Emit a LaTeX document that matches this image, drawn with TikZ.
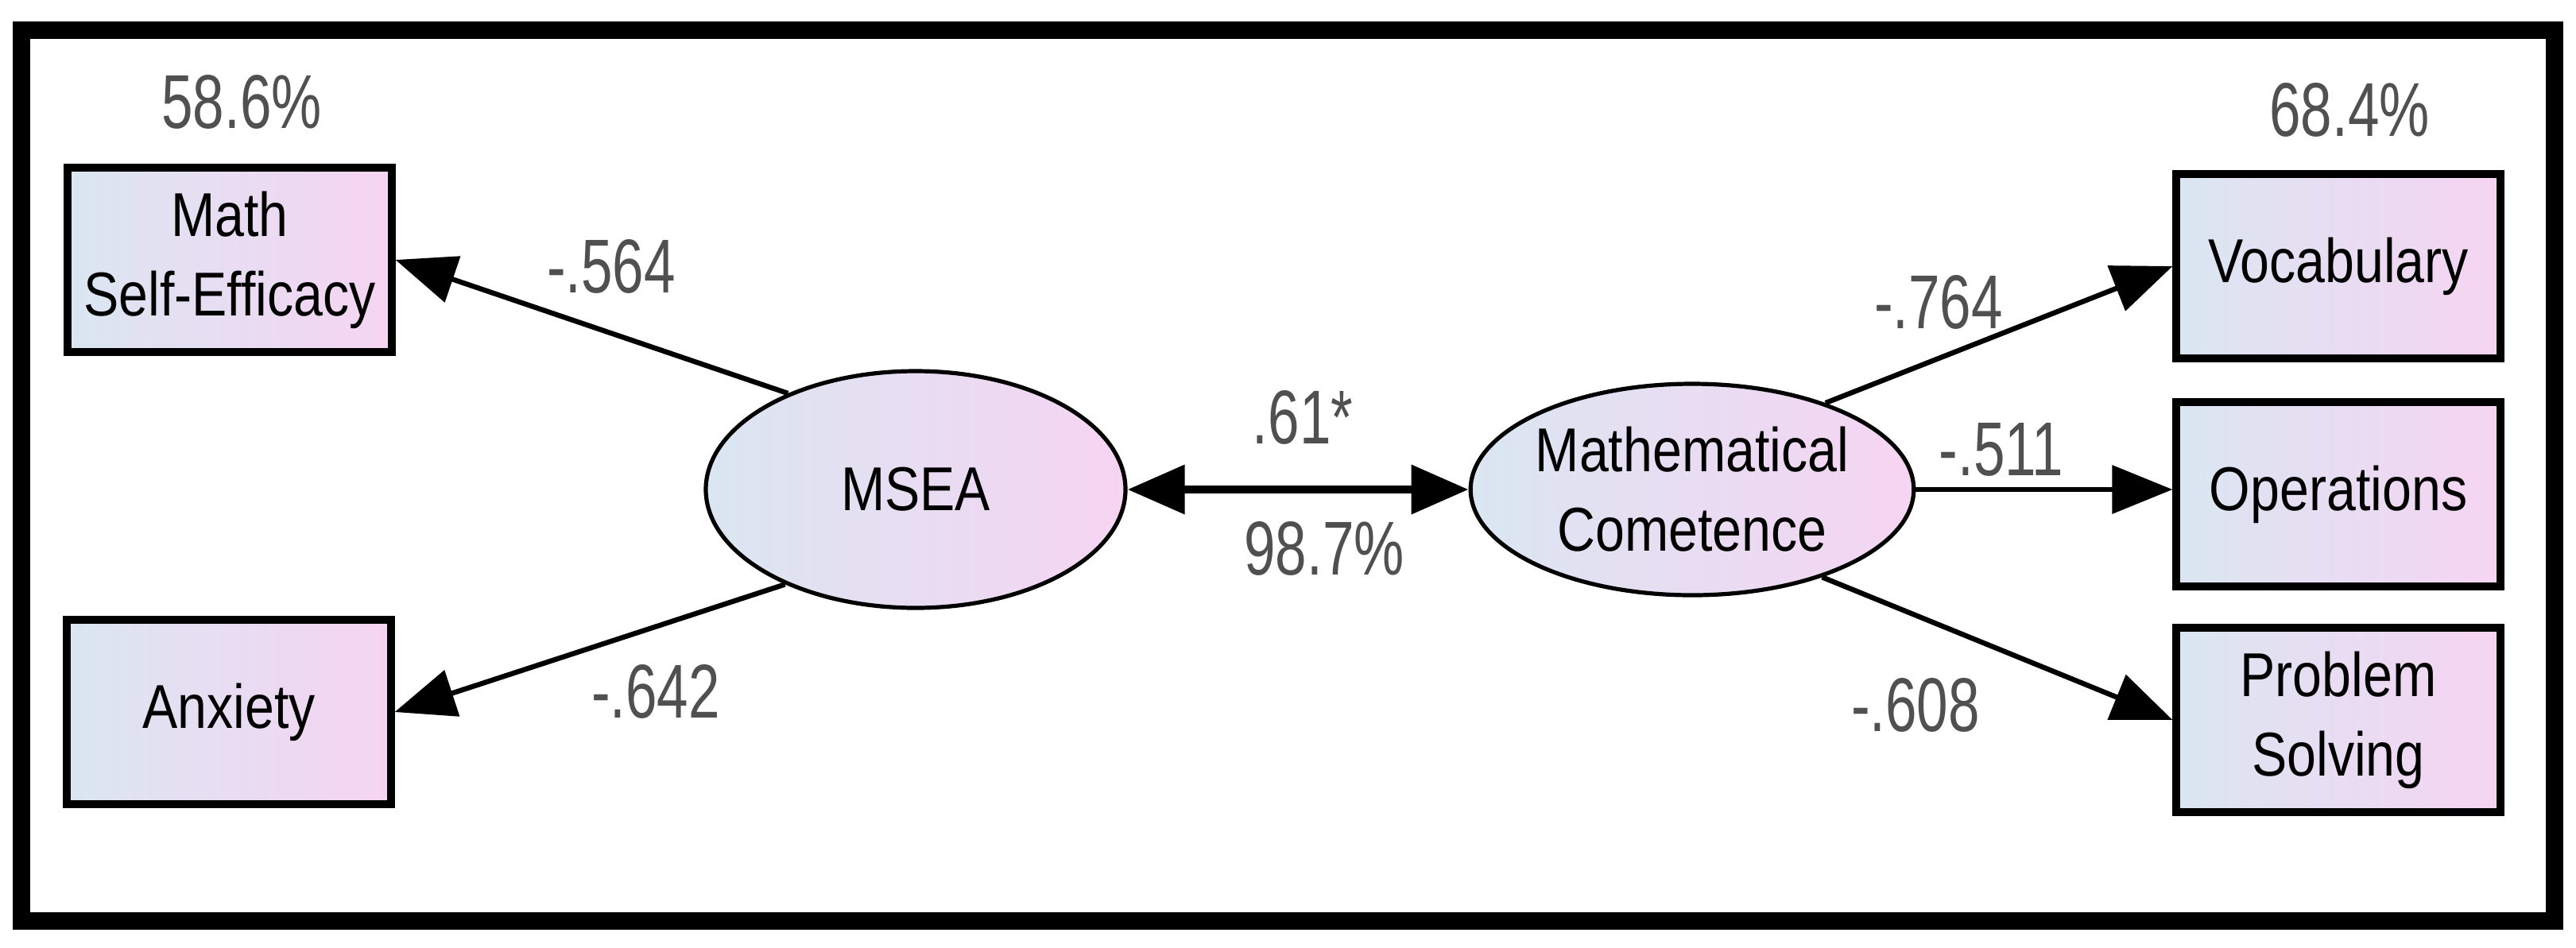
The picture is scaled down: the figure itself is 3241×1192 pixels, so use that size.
\documentclass[tikz,border=0pt]{standalone}
\usepackage{fontspec}
\setmainfont{Liberation Sans}
\newfontfamily\boxfont[FakeStretch=0.85]{Liberation Sans}
\newfontfamily\numfont[FakeStretch=0.74]{Liberation Sans}
\usetikzlibrary{arrows.meta,shapes.geometric}
\definecolor{lblue}{RGB}{218,230,242}
\definecolor{lpink}{RGB}{246,212,242}
\definecolor{numgray}{RGB}{80,80,80}
\tikzset{
  obs/.style={draw=black, line width=2.3pt, left color=lblue, right color=lpink,
    minimum width=102pt, minimum height=58pt, inner sep=0pt, align=center,
    font=\boxfont\fontsize{19.5}{25}\selectfont},
  lat/.style={ellipse, draw=black, line width=1.3pt, left color=lblue, right color=lpink,
    inner sep=0pt, align=center, font=\boxfont\fontsize{19.5}{25}\selectfont},
  arr/.style={line width=1.6pt, -{Triangle[length=19pt,width=15pt]}},
  dblarr/.style={line width=2.6pt, {Triangle[length=18pt,width=15pt]}-{Triangle[length=18pt,width=15pt]}},
  num/.style={text=numgray, inner sep=0pt, font=\numfont\fontsize{24}{24}\selectfont}
}
\begin{document}
\begin{tikzpicture}[x=0.25pt,y=-0.25pt]
\useasboundingbox (0,0) rectangle (3241,1192);
\fill[white] (0,0) rectangle (3241,1192);
\draw[line width=5.3pt] (27,38) rectangle (3214,1159);

\node[obs] (mse) at (289,327) {Math\\Self-Efficacy};
\node[obs] (anx) at (288,896) {Anxiety};
\node[obs] (voc) at (2942,335) {Vocabulary};
\node[obs] (ops) at (2942,622) {Operations};
\node[obs] (ps)  at (2942,906) {Problem\\Solving};

\node[lat, minimum width=132pt, minimum height=74.5pt] (msea) at (1152,616) {MSEA};
\node[lat, minimum width=133pt, minimum height=66.5pt] (mc) at (2129,616) {Mathematical\\Cometence};

\draw[arr] (msea.143) -- (mse.east);
\draw[arr] (msea.-144) -- (anx.east);
\draw[dblarr] (msea.east) -- (mc.west);
\draw[arr] (mc.33) -- (voc.west);
\draw[arr] (mc.east) -- (mc.east -| ops.west);
\draw[arr] (mc.-34) -- (ps.west);

\node[num] (r1) at (304,128) {58.6\%};
\node[num] (r2) at (2956,138) {68.4\%};
\node[num] (c1) at (1639,525) {.61*};
\node[num] (r3) at (1666,690) {98.7\%};
\node[num] (l1) at (769,335) {-.564};
\node[num] (l2) at (825,870) {-.642};
\node[num] (l3) at (2439,380) {-.764};
\node[num] (l4) at (2518,566) {-.511};
\node[num] (l5) at (2410,887) {-.608};
\end{tikzpicture}
\end{document}
